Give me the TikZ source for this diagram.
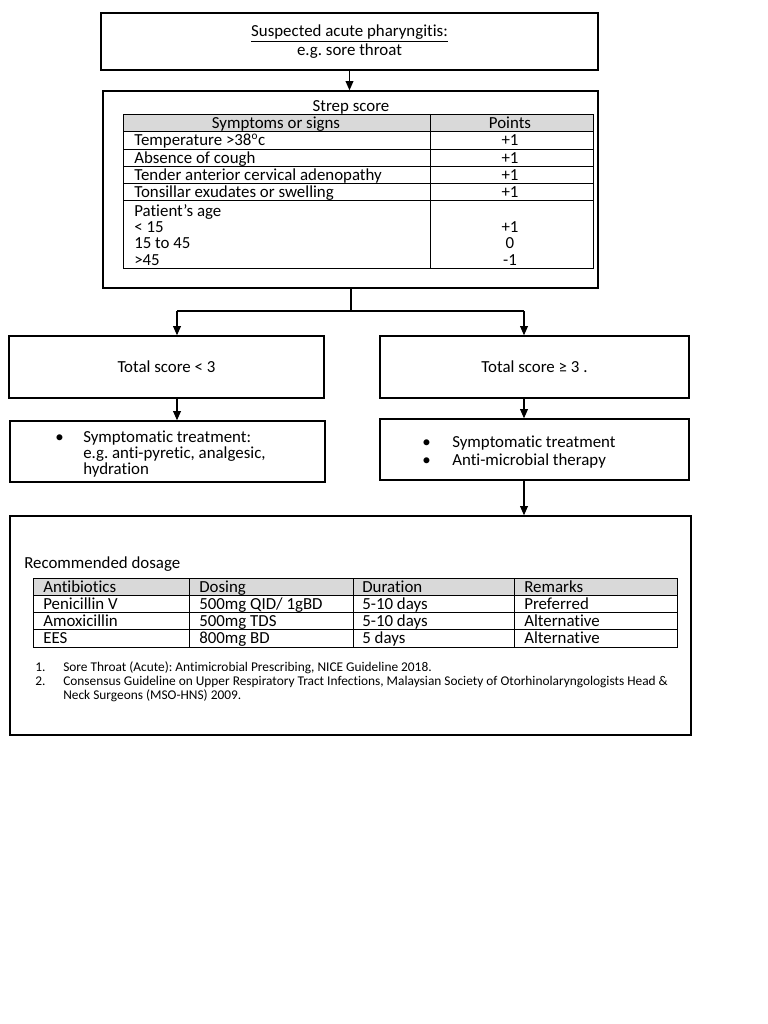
\documentclass[tikz,border=0pt]{standalone}
\usepackage{fontspec}
\setmainfont{Carlito}[Ligatures=NoCommon]
\usetikzlibrary{arrows.meta}

\begin{document}
\frenchspacing
\begin{tikzpicture}[
		x=0.025cm, y=-0.025cm,
		box/.style={
			draw,
			line width=1pt,
			align=center,
			inner sep=0pt,
			font=\fontsize{12}{12}\selectfont
		},
		txt/.style={
			inner sep=0pt,
			anchor=west,
			text height=8.5pt,
			text depth=0pt,
			font=\fontsize{12}{12}\selectfont
		},
		mid/.style={txt, anchor=center},
		reftxt/.style={txt, text height=7pt, text depth=0pt, font=\fontsize{9.5}{10}\selectfont},
		grid/.style={draw, line width=0.7pt},
		headfill/.style={fill=gray!30},
		line/.style={draw, line width=0.9pt},
		arrow/.style={line, -{Triangle[length=6.5pt, width=5.5pt]}}
		]
		
		\useasboundingbox[fill=white] (0,0) rectangle (768,1024);
		
		% Presenting complaint
		\node[box, minimum width=12.425cm, minimum height=1.425cm] (sus) at (349.5,41.5)
		{\underline{Suspected acute pharyngitis:}\\e.g. sore throat};
		
		% Strep score frame
		\node[box, minimum width=12.375cm, minimum height=4.925cm] (strep) at (350.5,189.5) {};
		\node[mid] (streptitle) at (351,106) {Strep score};
		
		% Strep score table
		\fill[headfill] (123,114) rectangle (593,131);
		\draw[grid] (123,114) rectangle (593,268);
		\draw[grid] (430,114) -- (430,268);
		\foreach \yy in {131,149,166,183,200}
			\draw[grid] (123,\yy) -- (593,\yy);
		\node[mid] (symhead) at (276,123) {Symptoms or signs};
		\node[mid] (pthead) at (510,123) {Points};
		\foreach \yy/\sign/\pts in {140/Temperature >38\textsuperscript{o}c/+1,
			158/Absence of cough/+1,
			175/Tender anterior cervical adenopathy/+1,
			192/Tonsillar exudates or swelling/+1,
			227/< 15/+1,
			243/15 to 45/0,
			260/>45/-1}{
			\node[txt] (sign\yy) at (134,\yy) {\sign};
			\node[mid] (pts\yy) at (510,\yy) {\pts};
		}
		\node[txt] (age) at (134,211) {Patient’s age};
		
		% Score outcomes
		\node[box, minimum width=7.875cm, minimum height=1.55cm] (low) at (166.5,367) {Total score < 3};
		\node[box, minimum width=7.725cm, minimum height=1.55cm] (high) at (534.5,367) {Total score ≥ 3 .};
		
		% Treatment
		\node[box, minimum width=7.875cm, minimum height=1.525cm] (treatlow) at (167.5,451.5) {};
		\node[txt] (bul1) at (55,437) {•};
		\node[txt] (tl1) at (83,437) {Symptomatic treatment:};
		\node[txt] (tl2) at (83,453) {e.g. anti-pyretic, analgesic,};
		\node[txt] (tl3) at (83,469) {hydration};
		
		\node[box, minimum width=7.725cm, minimum height=1.525cm] (treathigh) at (534.5,449.5) {};
		\node[txt] (bul2) at (422,442) {•};
		\node[txt] (bul3) at (422,460) {•};
		\node[txt] (th1) at (452,442) {Symptomatic treatment};
		\node[txt] (th2) at (452,460) {Anti-microbial therapy};
		
		% Dosage frame
		\node[box, minimum width=17.025cm, minimum height=5.475cm] (dose) at (350.5,625.5) {};
		\node[txt] (dosetitle) at (24,563) {Recommended dosage};
		
		% Dosage table
		\fill[headfill] (33,578) rectangle (677,595);
		\draw[grid] (33,578) rectangle (677,647);
		\foreach \xx in {189,353,514}
			\draw[grid] (\xx,578) -- (\xx,647);
		\foreach \yy in {595,612,629}
			\draw[grid] (33,\yy) -- (677,\yy);
		\foreach \yy/\drug/\dosing/\days/\note in {587/Antibiotics/Dosing/Duration/Remarks,
			604/Penicillin V/{500mg QID/ 1gBD}/5-10 days/Preferred,
			621/Amoxicillin/500mg TDS/5-10 days/Alternative,
			638/EES/800mg BD/5 days/Alternative}{
			\node[txt] (drug\yy) at (43,\yy) {\drug};
			\node[txt] (dosing\yy) at (199,\yy) {\dosing};
			\node[txt] (days\yy) at (362,\yy) {\days};
			\node[txt] (note\yy) at (524,\yy) {\note};
		}
		
		% References
		\node[reftxt] (refn1) at (35,667) {1.};
		\node[reftxt] (ref1) at (63,667) {Sore Throat (Acute): Antimicrobial Prescribing, NICE Guideline 2018.};
		\node[reftxt] (refn2) at (35,681) {2.};
		\node[reftxt] (ref2) at (63,681) {Consensus Guideline on Upper Respiratory Tract Infections, Malaysian Society of Otorhinolaryngologists Head \&};
		\node[reftxt] (ref2b) at (63,695) {Neck Surgeons (MSO-HNS) 2009.};
		
		% Flow lines
		\coordinate (split) at (351,311);
		\coordinate (splitl) at (177,311);
		\coordinate (splitr) at (524,311);
		\draw[arrow] (sus.south) -- (sus.south |- strep.north);
		\draw[line] (strep.south -| split) -- (split);
		\draw[line] (splitl) -- (splitr);
		\draw[arrow] (splitl) -- (splitl |- low.north);
		\draw[arrow] (splitr) -- (splitr |- high.north);
		\draw[arrow] (splitl |- low.south) -- (splitl |- treatlow.north);
		\draw[arrow] (splitr |- high.south) -- (splitr |- treathigh.north);
		\draw[arrow] (splitr |- treathigh.south) -- (splitr |- dose.north);
		
	\end{tikzpicture}
\end{document}
